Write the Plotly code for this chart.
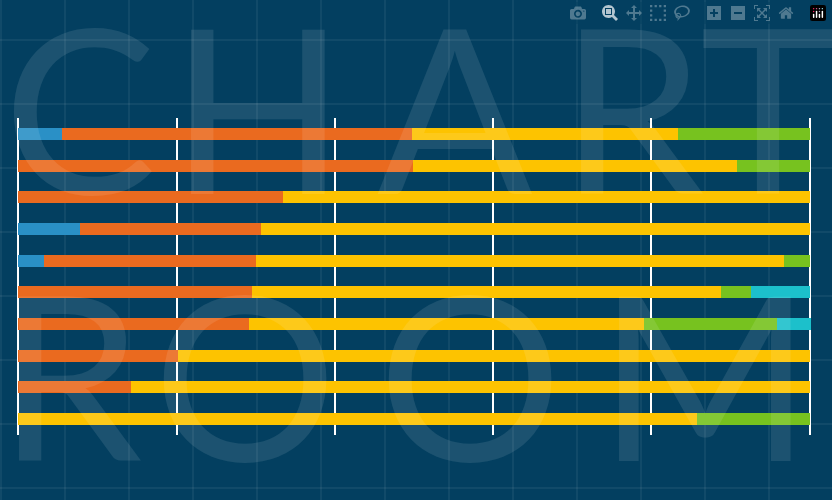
import plotly.graph_objects as go

rows = ["R1", "R2", "R3", "R4", "R5", "R6", "R7", "R8", "R9", "R10"]
blue = [5.5, 0, 0, 7.8, 3.3, 0, 0, 0, 0, 0]
orange = [44.3, 49.9, 33.4, 22.9, 26.8, 29.5, 29.2, 20.2, 14.2, 0]
yellow = [33.5, 40.9, 66.6, 69.3, 66.6, 59.3, 49.9, 79.8, 85.8, 85.8]
green = [16.7, 9.2, 0, 0, 3.3, 3.8, 16.8, 0, 0, 14.2]
teal = [0, 0, 0, 0, 0, 7.4, 4.2, 0, 0, 0]

series = [("blue", blue, "#2a90c6"), ("orange", orange, "#ea6a1f"),
          ("yellow", yellow, "#fdc300"), ("green", green, "#77c21f"),
          ("teal", teal, "#1cc0cb")]

# watermark letters: (letter, centre x px, centre y px)
letters = [("C", 80, 105), ("H", 258, 105), ("A", 455, 105), ("R", 632, 105), ("T", 768, 105),
           ("R", 70, 372), ("O", 245, 372), ("O", 470, 372), ("M", 705, 372)]

W, H = 832, 500
L, R, T, B = 17, 21, 118, 65
pw, ph = W - L - R, H - T - B

fig = go.Figure()
for name, vals, col in series:
    fig.add_trace(go.Bar(y=rows, x=vals, name=name, orientation="h",
                         marker=dict(color=col, line=dict(width=0))))

# faint background grid
shapes = []
for px in range(1, W, 64):
    shapes.append(dict(type="line", xref="paper", yref="paper", layer="below",
                       x0=(px - L) / pw, x1=(px - L) / pw, y0=-B / ph, y1=(H - T) / ph + 0.4,
                       line=dict(color="rgba(255,255,255,0.12)", width=1)))
for py in range(40, H, 64):
    yy = (H - B - py) / ph
    shapes.append(dict(type="line", xref="paper", yref="paper", layer="below",
                       x0=-L / pw, x1=(W - L) / pw, y0=yy, y1=yy,
                       line=dict(color="rgba(255,255,255,0.12)", width=1)))

annotations = [
    dict(text=ch, xref="paper", yref="paper", x=(cx - L) / pw, y=(H - B - cy) / ph,
         xanchor="center", yanchor="middle", showarrow=False,
         font=dict(family="Lato", size=230, color="rgba(255,255,255,0.1)"))
    for ch, cx, cy in letters
]

fig.update_layout(
    barmode="stack", bargap=0.62, showlegend=False,
    width=W, height=H, margin=dict(l=L, r=R, t=T, b=B),
    paper_bgcolor="#033f60", plot_bgcolor="rgba(0,0,0,0)",
    shapes=shapes, annotations=annotations,
    xaxis=dict(range=[-0.15, 100.15], dtick=20, showgrid=True, gridcolor="white",
               gridwidth=1.5, zeroline=False, showticklabels=False),
    yaxis=dict(autorange="reversed", showgrid=False, showticklabels=False, zeroline=False),
)
fig.write_html("out.html", post_script="document.body.style.margin='0';")
